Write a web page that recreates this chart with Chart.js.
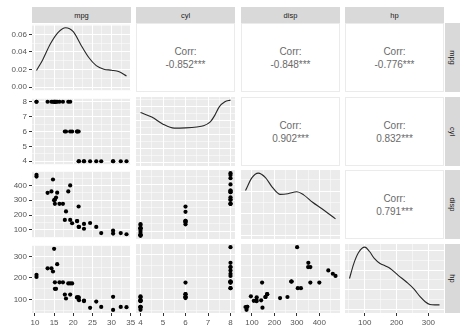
<!DOCTYPE html>
<html>
<head>
<meta charset="utf-8">
<script src="https://cdn.jsdelivr.net/npm/chart.js@4.4.1/dist/chart.umd.min.js"></script>
<style>
body{margin:0;background:#fff;width:474px;height:331px;overflow:hidden;position:relative;font-family:"Liberation Sans",Arial,sans-serif}
canvas{position:absolute}
.strip{position:absolute;background:#d9d9d9;color:#1a1a1a;font-size:7.5px;display:flex;align-items:center;justify-content:center}
.strip span{display:block;white-space:nowrap}
.corr{position:absolute;background:#fff;border:1px solid #ebebeb;box-sizing:border-box;color:#6a6a6a;font-size:10px;line-height:13px;text-align:center;display:flex;flex-direction:column;justify-content:center;padding-top:1px}
</style>
</head>
<body>
<script>
// mtcars columns
const vars = ['mpg', 'cyl', 'disp', 'hp'];
const mpg  = [21.0,21.0,22.8,21.4,18.7,18.1,14.3,24.4,22.8,19.2,17.8,16.4,17.3,15.2,10.4,10.4,14.7,32.4,30.4,33.9,21.5,15.5,15.2,13.3,19.2,27.3,26.0,30.4,15.8,19.7,15.0,21.4];
const cyl  = [6,6,4,6,8,6,8,4,4,6,6,8,8,8,8,8,8,4,4,4,4,8,8,8,8,4,4,4,8,6,8,4];
const disp = [160,160,108,258,360,225,360,146.7,140.8,167.6,167.6,275.8,275.8,275.8,472,460,440,78.7,75.7,71.1,120.1,318,304,350,400,79,120.3,95.1,351,145,301,121];
const hp   = [110,110,93,110,175,105,245,62,95,123,123,180,180,180,205,215,230,66,52,65,97,150,150,245,175,66,91,113,264,175,335,109];

// density curves on the diagonal
const mpgDensX  = [10.4,12,14,16,18,20,22,24,26,28,30,32,33.9];
const mpgDensY  = [0.019,0.031,0.049,0.062,0.0675,0.063,0.048,0.034,0.0245,0.0205,0.0193,0.0175,0.0128];
const cylDensX  = [4,4.5,5,5.5,6,6.5,6.8,7.1,7.3,7.5,7.75,8];
const cylDensY  = [0.178,0.162,0.137,0.123,0.124,0.127,0.131,0.145,0.168,0.198,0.216,0.222];
const dispDensX = [71.1,100,128,160,190,226,260,300,330,370,410,440,472];
const dispDensY = [0.00202,0.0026,0.0028,0.0026,0.00218,0.00185,0.00188,0.00197,0.00183,0.0015,0.00122,0.001,0.00076];
const hpDensX   = [52,65,80,100,115,130,148,165,180,205,232,255,274,290,305,320,335];
const hpDensY   = [0.00315,0.0046,0.00573,0.0063,0.00586,0.00517,0.00466,0.00441,0.00416,0.00347,0.00277,0.00208,0.00132,0.00082,0.00054,0.0005,0.0005];

// tick labels
const mpgTicks  = [10,15,20,25,30,35];
const cylTicks  = [4,5,6,7,8];
const dispTicks = [100,200,300,400];
const hpTicks   = [100,200,300];
const mpgDensTicks  = [0,0.02,0.04,0.06];
const cylDensTicks  = [0,0.05,0.1,0.15,0.2];
const dispDensTicks = [0,0.001,0.002];
const hpDensTicks   = [0,0.002,0.004,0.006];

// upper triangle text
const corrPairs = [[0,1],[0,2],[0,3],[1,2],[1,3],[2,3]];
const corrText  = ['-0.852***','-0.848***','-0.776***','0.902***','0.832***','0.791***'];

const cols = {mpg, cyl, disp, hp};
const ticks = {mpg: mpgTicks, cyl: cylTicks, disp: dispTicks, hp: hpTicks};
const dens = {
  mpg: {x: mpgDensX, y: mpgDensY, t: mpgDensTicks},
  cyl: {x: cylDensX, y: cylDensY, t: cylDensTicks},
  disp: {x: dispDensX, y: dispDensY, t: dispDensTicks},
  hp: {x: hpDensX, y: hpDensY, t: hpDensTicks}
};

const L = [32,136,241,345], T = [23,97,170,244], W = 99, H = 69;
const AXW = 32, AXH = 18, PAD = 7;
const fam = '"Liberation Sans", Arial, sans-serif';

function range(arr){
  const lo = Math.min(...arr), hi = Math.max(...arr), e = (hi-lo)*0.05;
  return [lo-e, hi+e];
}
function densRange(arr){
  const hi = Math.max(...arr);
  return [-0.05*hi, 1.05*hi];
}
function tickList(majors, min, max){
  const step = majors[1]-majors[0];
  const out = [];
  for (let i = -1; i < majors.length; i++){
    const m = i < 0 ? majors[0]-step : majors[i];
    if (i >= 0 && m >= min && m <= max) out.push({value: m, isMajor: true});
    const mid = m + step/2;
    if (mid >= min && mid <= max) out.push({value: mid, isMajor: false});
  }
  return out;
}

const bgPlugin = {
  id: 'panelBg',
  beforeDraw(chart){
    const a = chart.chartArea, c = chart.ctx;
    c.save();
    c.fillStyle = '#ebebeb';
    c.fillRect(a.left, a.top, a.right-a.left, a.bottom-a.top);
    c.restore();
  }
};

function axis(lim, majors, show, isX, fmt){
  return {
    type: 'linear', position: isX ? 'bottom' : 'left',
    min: lim[0], max: lim[1],
    afterBuildTicks: s => { s.ticks = tickList(majors, lim[0], lim[1]); },
    afterFit: s => { if (isX) s.height = show ? AXH : 0; else s.width = show ? AXW : 0; },
    border: {display: false},
    grid: {
      color: '#ffffff',
      lineWidth: c => (c.tick && c.tick.isMajor) ? 1 : 0.5,
      drawTicks: show, tickLength: 3, tickWidth: 1,
      tickColor: c => (c.tick && c.tick.isMajor) ? '#333333' : 'rgba(0,0,0,0)'
    },
    ticks: {
      display: show, autoSkip: false, maxRotation: 0, padding: 2,
      color: '#555555', font: {size: 8, family: fam},
      callback: (v, i, tk) => tk[i].isMajor ? fmt(v) : ''
    }
  };
}

function addDiv(cls, left, top, w, h, html){
  const d = document.createElement('div');
  d.className = cls;
  Object.assign(d.style, {left: left+'px', top: top+'px', width: w+'px', height: h+'px'});
  d.innerHTML = html;
  document.body.appendChild(d);
  return d;
}

// strips
vars.forEach((v, i) => {
  addDiv('strip', L[i], 7, W, 16, '<span>'+v+'</span>');
  addDiv('strip', 445, T[i], 15, H, '<span style="transform:rotate(90deg)">'+v+'</span>');
});

// correlation panels
corrPairs.forEach((p, k) => {
  const [r, c] = p;
  addDiv('corr', L[c], T[r], W, H, '<div>Corr:</div><div>'+corrText[k]+'</div>');
});

// plot panels
for (let r = 0; r < 4; r++){
  for (let c = 0; c <= r; c++){
    const vx = vars[c], vy = vars[r];
    const showY = c === 0, showX = r === 3;
    const padL = showY ? AXW : PAD;
    const padT = 5, padB = showX ? AXH : 5;
    const cv = document.createElement('canvas');
    const cw = W + padL + PAD, ch = H + padT + padB;
    cv.width = cw; cv.height = ch;
    Object.assign(cv.style, {left: (L[c]-padL)+'px', top: (T[r]-padT)+'px', width: cw+'px', height: ch+'px'});
    document.body.appendChild(cv);

    const xAxis = axis(range(cols[vx]), ticks[vx], showX, true, v => String(v));
    let yAxis, datasets;
    if (r === c){
      const d = dens[vx];
      yAxis = axis(densRange(d.y), d.t, showY, false, v => v.toFixed(2));
      datasets = [{
        data: d.x.map((x, i) => ({x, y: d.y[i]})),
        showLine: true, pointRadius: 0, borderColor: '#262626', borderWidth: 1.1,
        tension: 0.4, cubicInterpolationMode: 'monotone', fill: false
      }];
    } else {
      yAxis = axis(range(cols[vy]), ticks[vy], showY, false, v => String(v));
      datasets = [{
        data: cols[vx].map((x, i) => ({x, y: cols[vy][i]})),
        pointRadius: 2.1, pointBackgroundColor: '#000', pointBorderWidth: 0, showLine: false
      }];
    }
    new Chart(cv, {
      type: 'scatter',
      data: {datasets},
      options: {
        responsive: false, animation: false, devicePixelRatio: 1, events: [],
        layout: {autoPadding: false, padding: {left: showY ? 0 : PAD, right: PAD, top: padT, bottom: showX ? 0 : padB}},
        plugins: {legend: {display: false}, tooltip: {enabled: false}},
        scales: {x: xAxis, y: yAxis}
      },
      plugins: [bgPlugin]
    });
  }
}
</script>
</body>
</html>
